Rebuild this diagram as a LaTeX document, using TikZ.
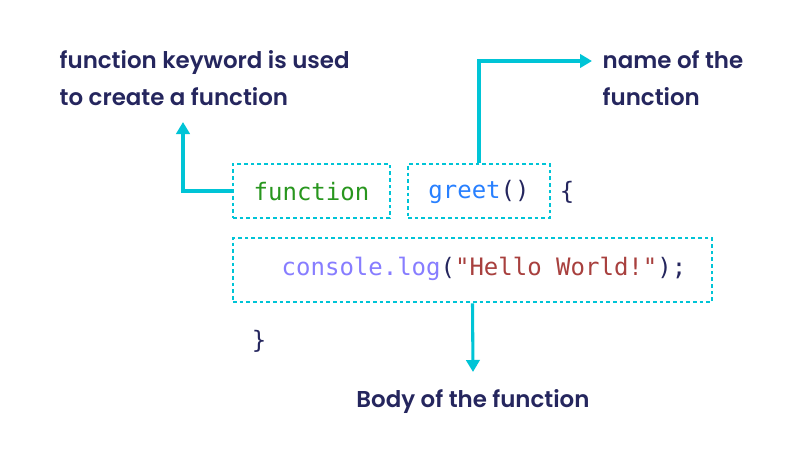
\documentclass[tikz,border=0pt]{standalone}
\usepackage{fontspec}
\setmainfont{Poppins}[BoldFont={* SemiBold}]
\setmonofont{DejaVu Sans Mono}
\usetikzlibrary{arrows.meta}

\definecolor{navy}{RGB}{37,38,94}
\definecolor{cyanline}{RGB}{0,196,214}
\definecolor{kwgreen}{RGB}{40,150,30}
\definecolor{fnblue}{RGB}{40,128,255}
\definecolor{objpurple}{RGB}{135,125,255}
\definecolor{strred}{RGB}{168,64,62}

\tikzset{
  codebox/.style={draw=cyanline,line width=2pt,dash pattern={on 2.8pt off 2.2pt},inner sep=0pt},
  note/.style={text=navy,font=\bfseries\fontsize{17.2}{27.5}\selectfont,align=left},
  code/.style={font=\ttfamily\fontsize{18}{20}\selectfont,text=navy},
  pointer/.style={draw=cyanline,line width=2.3pt,-{Triangle[length=9pt,width=10pt]}}
}

\begin{document}
\begin{tikzpicture}[x=0.75pt,y=0.75pt,yscale=-1,xscale=1]
\useasboundingbox[fill=white] (0,0) rectangle (800,450);

% Code boxes
\node [codebox,minimum width=117.75pt,minimum height=40.5pt] (kwbox) at (311.5,191) {};
\node [codebox,minimum width=106.5pt,minimum height=40.5pt] (namebox) at (479,191) {};
\node [codebox,minimum width=359.25pt,minimum height=48pt] (bodybox) at (472.5,270) {};

% Code text
\node [code,text=kwgreen] (kw) at (311.5,192) {function};
\node [code] (fname) at (479,192) {\textcolor{fnblue}{greet}()};
\node [code] (lbrace) at (567,192) {\{};
\node [code,anchor=west] (stmt) at (277,269) {\textcolor{objpurple}{console.log}(\textcolor{strred}{"Hello World!"});};
\node [code] (rbrace) at (259,341) {\}};

% Notes
\node [note,anchor=north west] (kwnote) at (55,46) {function keyword is used\\to create a function};
\node [note,anchor=north west] (namenote) at (598,46) {name of the\\function};
\node [note] (bodynote) at (473,402) {Body of the function};

% Pointers
\coordinate (kwtip) at (183,122);
\coordinate (nametip) at (592,61);
\coordinate (bodytip) at (473,372);
\draw [pointer] (kwbox.west) -| (kwtip);
\draw [pointer] (namebox.north) |- (nametip);
\draw [pointer] (bodybox.south) -- (bodytip);

\end{tikzpicture}
\end{document}
